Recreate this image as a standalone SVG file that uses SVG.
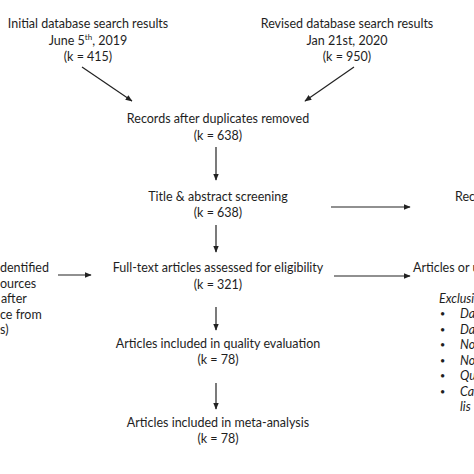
<svg xmlns="http://www.w3.org/2000/svg" width="474" height="474" viewBox="0 0 474 474">
<defs>
<style>
text{font-family:Lato,"Liberation Sans",sans-serif;font-size:12.5px;fill:#1e1e1e}
.c{text-anchor:middle}
.i{font-style:italic}
.b{font-size:9px}
.ln{stroke:#222;stroke-width:1.2;fill:none;marker-end:url(#ah)}
</style>
<marker id="ah" viewBox="0 0 10 10" refX="9" refY="5" markerWidth="7" markerHeight="7" markerUnits="userSpaceOnUse" orient="auto"><path d="M0,1 L10,5 L0,9 z" fill="#222"/></marker>
</defs>
<rect width="474" height="474" fill="#fff"/>
<g id="initial"><text class="c" x="88" y="28">Initial database search results</text><text class="c" x="88" y="45">June 5<tspan font-size="8" dy="-5">th</tspan><tspan dy="5">, 2019</tspan></text><text class="c" x="88" y="61">(k = 415)</text></g>
<g id="revised"><text class="c" x="347" y="28">Revised database search results</text><text class="c" x="347" y="45">Jan 21st, 2020</text><text class="c" x="347" y="61">(k = 950)</text></g>
<g id="records"><text class="c" x="218" y="123">Records after duplicates removed</text><text class="c" x="218" y="140">(k = 638)</text></g>
<g id="title"><text class="c" x="218" y="201">Title &amp; abstract screening</text><text class="c" x="218" y="217">(k = 638)</text></g>
<g id="excluded1"><text x="455" y="201">Rec</text></g>
<g id="additional"><text x="0" y="272">dentified</text><text x="0" y="288">ources</text><text x="1" y="303">after</text><text x="0" y="319">ce from</text><text x="0" y="334">s)</text></g>
<g id="fulltext"><text class="c" x="218" y="272">Full-text articles assessed for eligibility</text><text class="c" x="218" y="289">(k = 321)</text></g>
<g id="excluded2"><text x="413" y="272">Articles or u</text><text class="i" x="439" y="303">Exclusi</text>
<text class="b" x="440" y="317">•</text><text class="i" x="460" y="318">Da</text>
<text class="b" x="440" y="333">•</text><text class="i" x="460" y="334">Da</text>
<text class="b" x="440" y="348">•</text><text class="i" x="460" y="349">No</text>
<text class="b" x="440" y="364">•</text><text class="i" x="460" y="365">No</text>
<text class="b" x="440" y="379">•</text><text class="i" x="460" y="380">Qu</text>
<text class="b" x="440" y="395">•</text><text class="i" x="460" y="396">Ca</text>
<text class="i" x="460" y="411">lis</text></g>
<g id="quality"><text class="c" x="218" y="348">Articles included in quality evaluation</text><text class="c" x="218" y="364">(k = 78)</text></g>
<g id="meta"><text class="c" x="218" y="427">Articles included in meta-analysis</text><text class="c" x="218" y="443">(k =  78)</text></g>
<g id="connectors">
<line class="ln" x1="82" y1="67" x2="132" y2="101"/>
<line class="ln" x1="354" y1="67" x2="305" y2="101"/>
<line class="ln" x1="216" y1="147" x2="216" y2="180"/>
<line class="ln" x1="216" y1="225" x2="216" y2="252"/>
<line class="ln" x1="331" y1="207" x2="410" y2="207"/>
<line class="ln" x1="58" y1="275" x2="91" y2="275"/>
<line class="ln" x1="334" y1="276" x2="410" y2="276"/>
<line class="ln" x1="216" y1="307" x2="216" y2="330"/>
<line class="ln" x1="216" y1="383" x2="216" y2="409"/>
</g>
</svg>
